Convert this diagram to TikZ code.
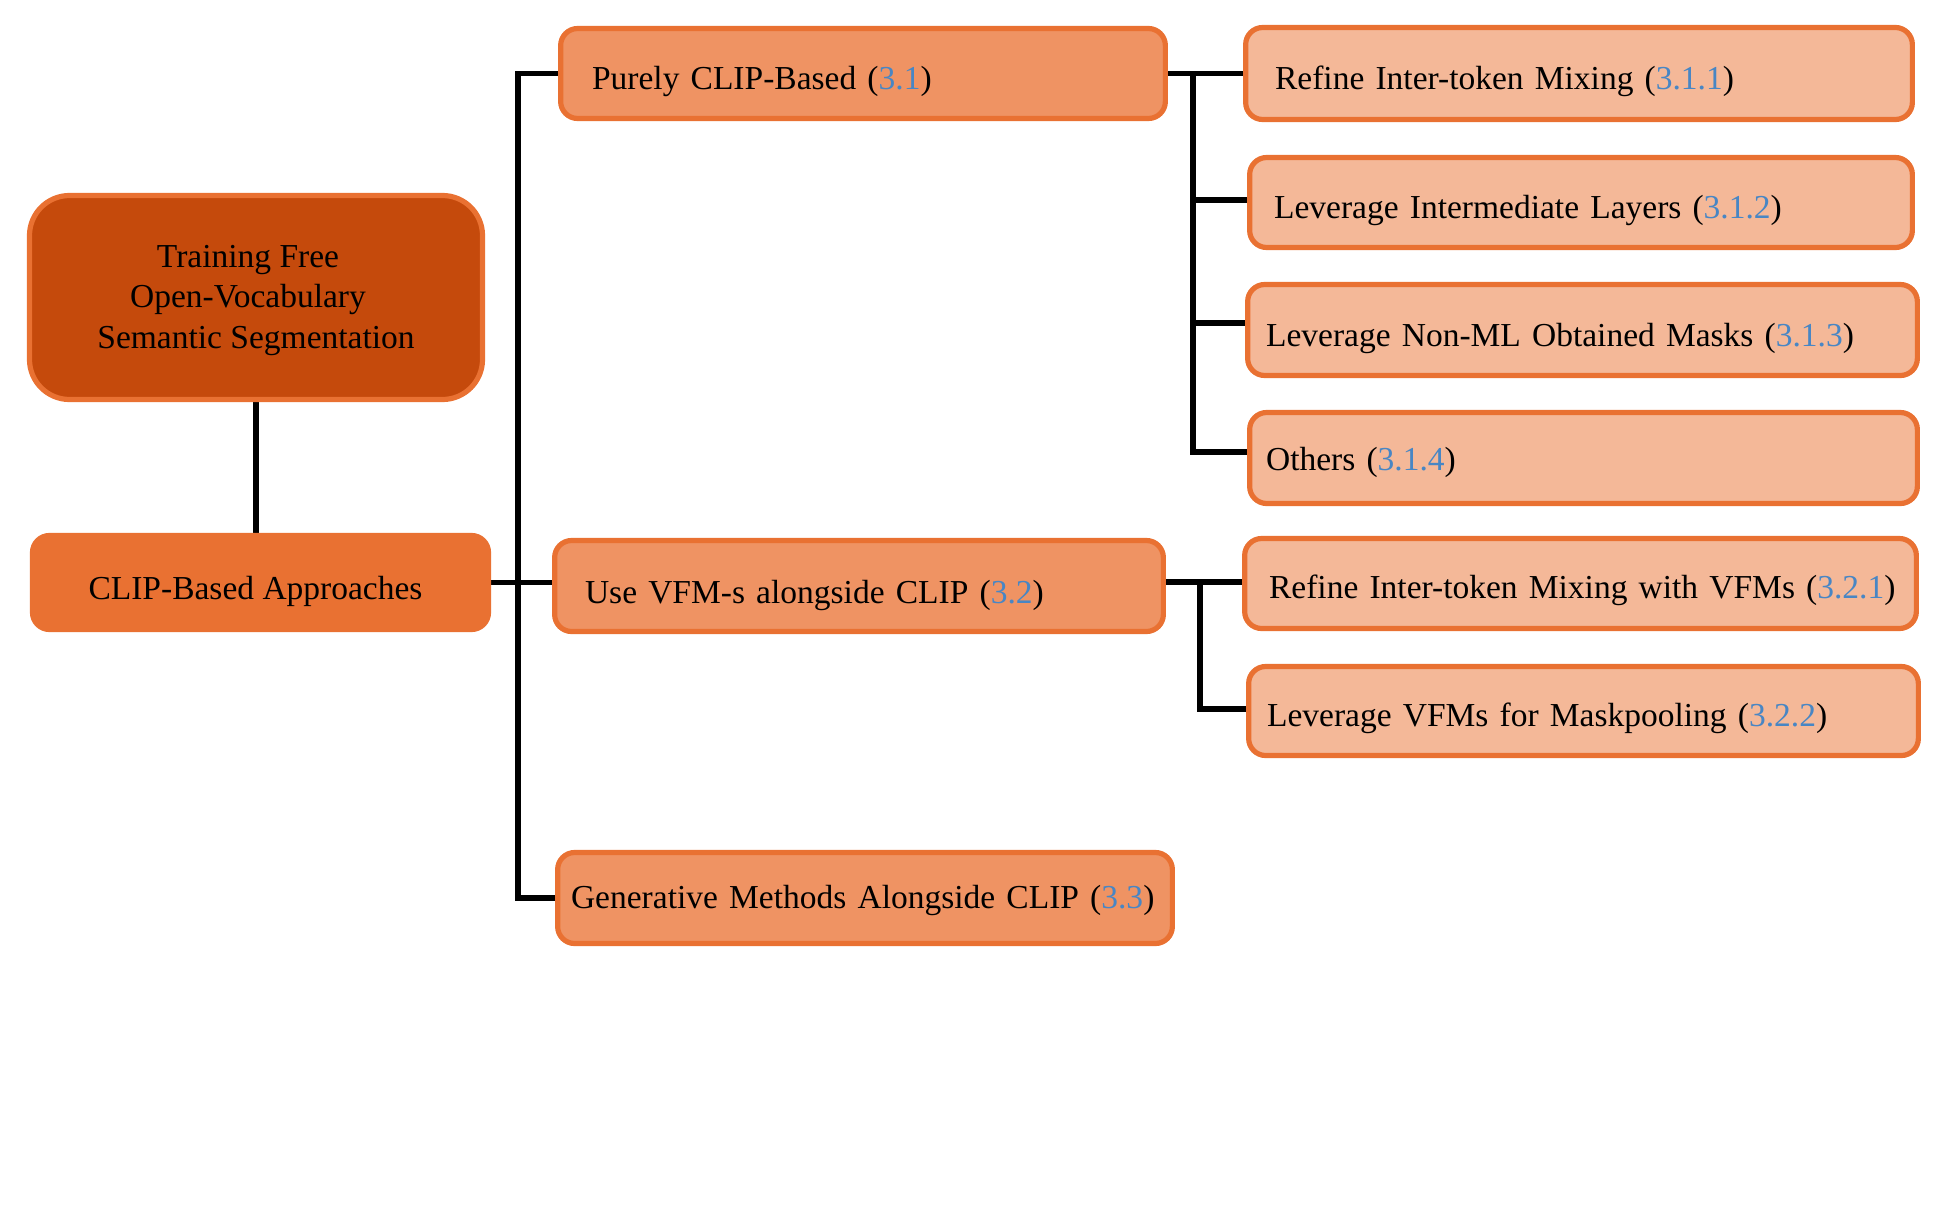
\documentclass[tikz,border=0pt]{standalone}
\usepackage{fontspec}
\setmainfont{Liberation Serif}
\usetikzlibrary{backgrounds}
\definecolor{rootfill}{RGB}{197,74,12}
\definecolor{orangeline}{RGB}{233,113,50}
\definecolor{midfill}{RGB}{239,147,99}
\definecolor{rightfill}{RGB}{244,184,152}
\definecolor{refblue}{RGB}{72,134,196}
\newcommand\refn[1]{\textcolor{refblue}{#1}}
\begin{document}
\begin{tikzpicture}[x=0.5pt,y=-0.5pt,
  box/.style={draw=orangeline, line width=2.6pt, rounded corners=8.5pt, inner ysep=0pt,
    align=left, text depth=1pt, font=\fontsize{16.75}{20.25}\selectfont},
  midbox/.style={box, fill=midfill},
  rbox/.style={box, fill=rightfill},
  conn/.style={line width=2.75pt, black}]
\useasboundingbox (0,0) rectangle (1952,1220);

% root and level 1
\node[draw=orangeline, fill=rootfill, line width=2.6pt, rounded corners=20pt,
  minimum width=226.5pt, minimum height=102pt, inner sep=0pt, align=center,
  font=\fontsize{16.75}{20.25}\selectfont] (root) at (256,297.5)
  {\rule{0pt}{14pt}Training Free\kern8pt\\Open-Vocabulary\kern8pt\\Semantic Segmentation};
\node[box, fill=orangeline, rounded corners=8.5pt, minimum width=228pt, minimum height=47pt,
  inner xsep=0pt, text height=17.5pt, align=center] (clip) at (260.5,582.5) {CLIP-Based Approaches\kern5pt};

% level 2
\node[midbox, minimum height=45pt, text width=270.95pt, inner xsep=15.7pt, text height=17.5pt]
  (p31) at (863,73.5) {\mbox{Purely CLIP-Based (\refn{3.1})}};
\node[midbox, minimum height=45.5pt, text width=273.95pt, inner xsep=15.2pt, text height=18pt]
  (p32) at (859,586) {\mbox{Use VFM-s alongside CLIP (\refn{3.2})}};
\node[midbox, minimum height=45.5pt, text width=293.95pt, inner xsep=6.7pt, text height=11.5pt]
  (p33) at (865,898) {\mbox{Generative Methods Alongside CLIP (\refn{3.3})}};

% level 3
\node[rbox, minimum height=46pt, text width=303.95pt, inner xsep=14.7pt, text height=17pt]
  (r311) at (1579,73.5) {\mbox{Refine Inter-token Mixing (\refn{3.1.1})}};
\node[rbox, minimum height=45pt, text width=306.95pt, inner xsep=12.2pt, text height=17pt]
  (r312) at (1581,202.5) {\mbox{Leverage Intermediate Layers (\refn{3.1.2})}};
\node[rbox, minimum height=45.5pt, text width=316.45pt, inner xsep=9.2pt, text height=17pt]
  (r313) at (1582.5,330) {\mbox{Leverage Non-ML Obtained Masks (\refn{3.1.3})}};
\node[rbox, minimum height=45.5pt, text width=317.45pt, inner xsep=8.2pt, text height=13pt]
  (r314) at (1583.5,458) {\mbox{Others (\refn{3.1.4})}};
\node[rbox, minimum height=45pt, text width=311.45pt, inner xsep=12.2pt, text height=16pt]
  (r321) at (1580.5,583.5) {\mbox{Refine Inter-token Mixing with VFMs (\refn{3.2.1})}};
\node[rbox, minimum height=44.5pt, text width=316.45pt, inner xsep=9.2pt, text height=16pt]
  (r322) at (1583.5,711) {\mbox{Leverage VFMs for Maskpooling (\refn{3.2.2})}};

% junction coordinates
\coordinate (ja) at (518,0);
\coordinate (jb) at (1193,0);
\coordinate (jc) at (1200,0);
\coordinate (b2) at ([yshift=1.25pt]r312.west);
\coordinate (b3) at ([yshift=3.5pt]r313.west);
\coordinate (b4) at ([yshift=3pt]r314.west);
\coordinate (c1) at ([yshift=2pt]p32.east);
\coordinate (c2) at ([yshift=1pt]r322.west);

\begin{scope}[on background layer]
  \draw[conn] (root.south) -- (root.south |- clip.north);
  \draw[conn] (clip.east) -- (clip.east -| p32.west);
  \draw[conn] (p31.west) -- (p31.west -| ja) -- (p33.west -| ja) -- (p33.west);
  \draw[conn] (p31.east) -- (r311.west);
  \draw[conn] (p31.east -| jb) -- (b4 -| jb) -- (b4);
  \draw[conn] (b2 -| jb) -- (b2);
  \draw[conn] (b3 -| jb) -- (b3);
  \draw[conn] (c1) -- (c1 -| r321.west);
  \draw[conn] (c1 -| jc) -- (c2 -| jc) -- (c2);
\end{scope}
\end{tikzpicture}
\end{document}
